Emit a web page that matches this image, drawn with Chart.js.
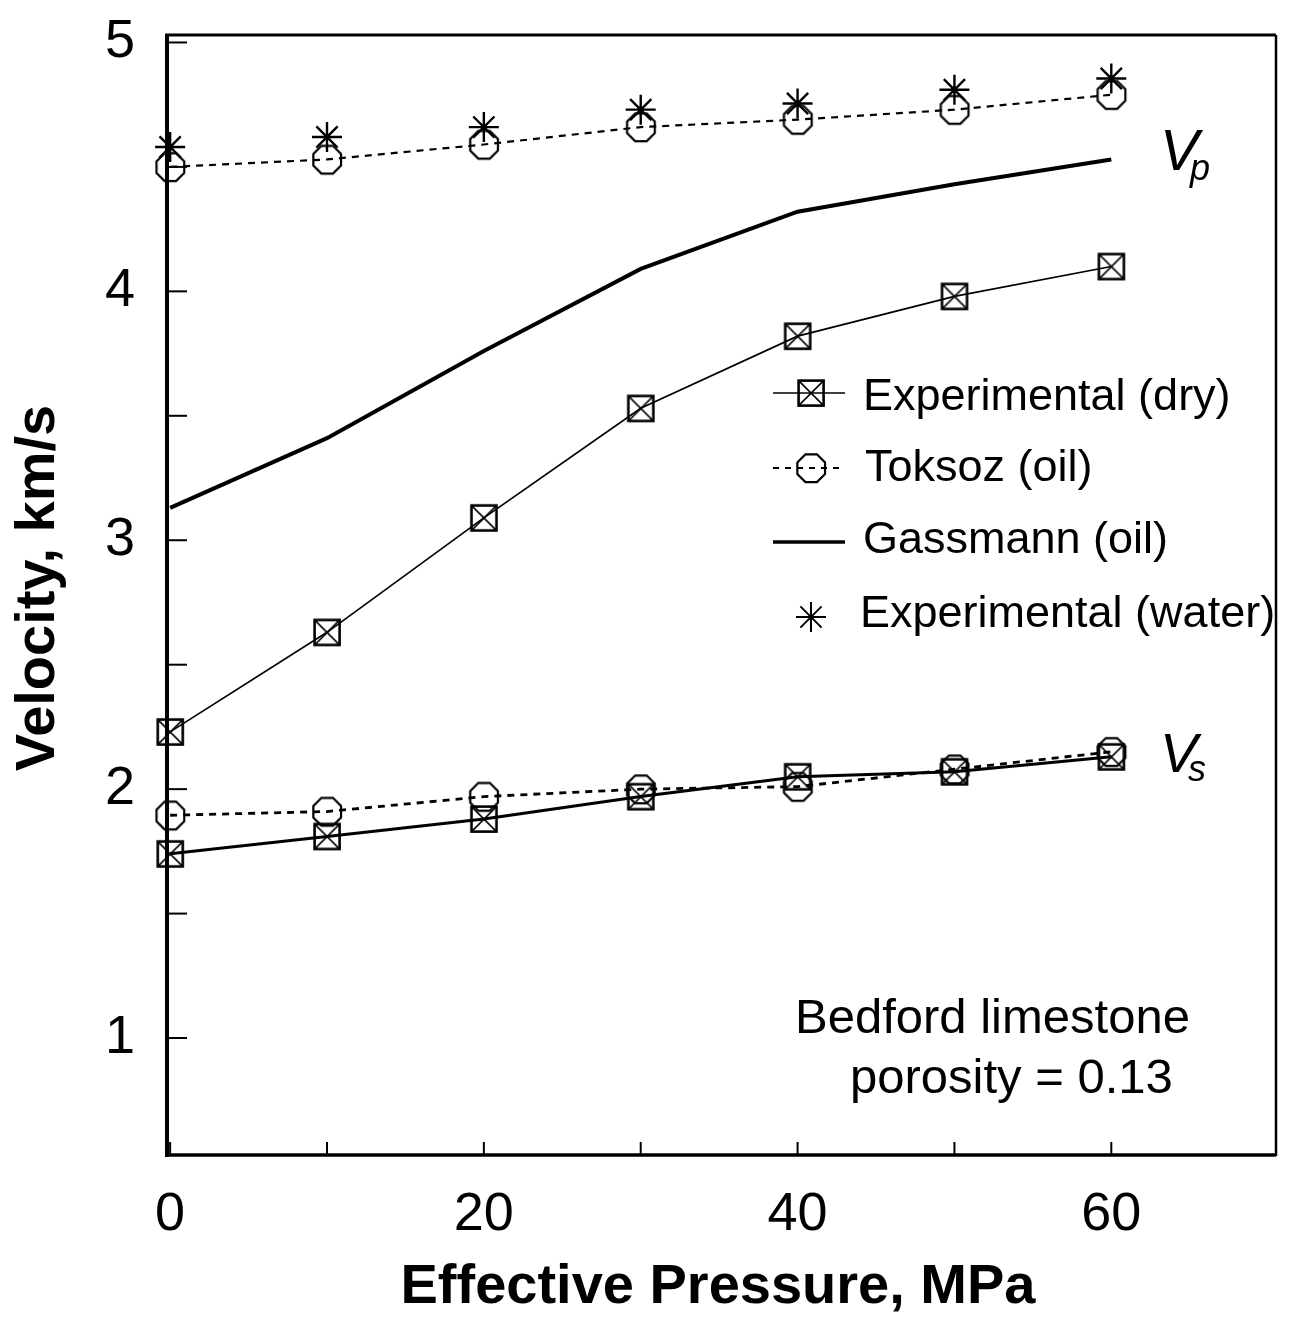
<!DOCTYPE html>
<html><head><meta charset="utf-8">
<script src="https://cdn.jsdelivr.net/npm/chart.js@4/dist/chart.umd.min.js"></script>
<style>html,body{margin:0;padding:0;background:#fff;}#wrap{width:1300px;height:1325px;position:relative;}</style>
</head><body><div id="wrap"><canvas id="c" width="1300" height="1325"></canvas></div>
<script>
// ---- data ----
const pressure   = [0, 10, 20, 30, 40, 50, 60];
const vpDry      = [2.23, 2.63, 3.09, 3.53, 3.82, 3.98, 4.10];
const vpToksoz   = [4.50, 4.53, 4.59, 4.66, 4.69, 4.73, 4.79];
const vpGassmann = [3.13, 3.41, 3.76, 4.09, 4.32, 4.43, 4.53];
const vpWater    = [4.58, 4.62, 4.66, 4.73, 4.755, 4.81, 4.855];
const vsDry      = [1.74, 1.81, 1.88, 1.97, 2.05, 2.07, 2.13];
const vsToksoz   = [1.895, 1.91, 1.97, 2.00, 2.01, 2.08, 2.15];
const xTickValues = [0, 10, 20, 30, 40, 50, 60];
const xTickLabels = ['0', '', '20', '', '40', '', '60'];
const yTickValues = [1, 1.5, 2, 2.5, 3, 3.5, 4, 4.5, 5];
const yTickLabels = ['1', '', '2', '', '3', '', '4', '', '5'];
const legendLabels = ['Experimental (dry)', 'Toksoz (oil)', 'Gassmann (oil)', 'Experimental (water)'];
const noteLines = ['Bedford limestone', 'porosity = 0.13'];

// ---- marker images ----
function squareX(size, lw) {
  const c = document.createElement('canvas');
  const s = size + lw * 2; c.width = s; c.height = s;
  const g = c.getContext('2d');
  g.strokeStyle = '#000'; g.lineWidth = lw;
  const o = lw, e = lw + size;
  g.strokeRect(o, o, size, size);
  g.lineWidth = lw * 0.6;
  g.beginPath(); g.moveTo(o, o); g.lineTo(e, e); g.moveTo(e, o); g.lineTo(o, e); g.stroke();
  return c;
}
function octagon(d, lw) {
  const c = document.createElement('canvas');
  const s = d + lw * 2; c.width = s; c.height = s;
  const g = c.getContext('2d');
  g.strokeStyle = '#000'; g.lineWidth = lw;
  const r = d / 2, cx = s / 2, cy = s / 2;
  g.beginPath();
  for (let i = 0; i < 8; i++) {
    const a = Math.PI / 8 + i * Math.PI / 4;
    const x = cx + r * Math.cos(a), y = cy + r * Math.sin(a);
    if (i === 0) g.moveTo(x, y); else g.lineTo(x, y);
  }
  g.closePath(); g.stroke();
  return c;
}
const sqImg = squareX(25, 2.6);
const octImg = octagon(30, 2.2);

const pts = arr => pressure.map((p, i) => ({ x: p, y: arr[i] }));

const FONT = "'Liberation Sans', Arial, Helvetica, sans-serif";

const decor = {
  id: 'decor',
  afterDatasetsDraw(chart) {
    const { ctx, chartArea: a, scales: { x, y } } = chart;
    ctx.save();
    ctx.strokeStyle = '#000'; ctx.fillStyle = '#000';
    // frame
    ctx.lineWidth = 4; ctx.beginPath(); ctx.moveTo(a.left, a.top - 1); ctx.lineTo(a.left, a.bottom + 2); ctx.stroke();
    ctx.lineWidth = 3.5; ctx.beginPath(); ctx.moveTo(a.left - 2, a.bottom); ctx.lineTo(a.right, a.bottom); ctx.stroke();
    ctx.lineWidth = 3; ctx.beginPath(); ctx.moveTo(a.left - 2, a.top); ctx.lineTo(a.right, a.top); ctx.stroke();
    ctx.lineWidth = 2.5; ctx.beginPath(); ctx.moveTo(a.right, a.top); ctx.lineTo(a.right, a.bottom + 1); ctx.stroke();
    // inward ticks
    ctx.lineWidth = 2;
    yTickValues.forEach(v => { const py = y.getPixelForValue(v); ctx.beginPath(); ctx.moveTo(a.left, py); ctx.lineTo(a.left + 20, py); ctx.stroke(); });
    xTickValues.forEach(v => { const px = x.getPixelForValue(v); ctx.beginPath(); ctx.moveTo(px, a.bottom); ctx.lineTo(px, a.bottom - 13); ctx.stroke(); });
    // axis titles
    ctx.font = "bold 56px " + FONT;
    ctx.textAlign = 'center'; ctx.textBaseline = 'alphabetic';
    ctx.fillText('Effective Pressure, MPa', 718, 1303);
    ctx.save(); ctx.translate(54, 588); ctx.rotate(-Math.PI / 2); ctx.fillText('Velocity, km/s', 0, 0); ctx.restore();
    // Vp / Vs labels
    ctx.textAlign = 'left';
    ctx.font = "italic 58px " + FONT; ctx.fillText('V', 1160, 170);
    ctx.font = "italic 36px " + FONT; ctx.fillText('p', 1190, 180);
    ctx.font = "italic 56px " + FONT; ctx.fillText('V', 1160, 772);
    ctx.font = "italic 36px " + FONT; ctx.fillText('s', 1188, 781);
    // legend
    ctx.font = "45px " + FONT;
    const rows = [
      { ty: 410, tx: 863, ly: 393, kind: 'dry' },
      { ty: 481, tx: 865, ly: 468, kind: 'tok' },
      { ty: 553, tx: 863, ly: 542, kind: 'gas' },
      { ty: 627, tx: 860, ly: 617, kind: 'wat' }
    ];
    rows.forEach((r, i) => {
      ctx.fillText(legendLabels[i], r.tx, r.ty);
      if (r.kind === 'dry') {
        ctx.lineWidth = 1.6; ctx.setLineDash([]);
        ctx.beginPath(); ctx.moveTo(773, r.ly); ctx.lineTo(845, r.ly); ctx.stroke();
        ctx.drawImage(sqImg, 811 - sqImg.width / 2, r.ly - sqImg.height / 2);
      } else if (r.kind === 'tok') {
        ctx.lineWidth = 2; ctx.setLineDash([6, 6]);
        ctx.beginPath(); ctx.moveTo(773, r.ly); ctx.lineTo(845, r.ly); ctx.stroke();
        ctx.setLineDash([]);
        ctx.drawImage(octImg, 811 - octImg.width / 2, r.ly - octImg.height / 2);
      } else if (r.kind === 'gas') {
        ctx.lineWidth = 3.5; ctx.setLineDash([]);
        ctx.beginPath(); ctx.moveTo(773, r.ly); ctx.lineTo(845, r.ly); ctx.stroke();
      } else {
        ctx.lineWidth = 2; const cx = 811, cy = r.ly, R = 15, d = R * Math.SQRT1_2;
        ctx.beginPath();
        ctx.moveTo(cx - R, cy); ctx.lineTo(cx + R, cy);
        ctx.moveTo(cx, cy - R); ctx.lineTo(cx, cy + R);
        ctx.moveTo(cx - d, cy - d); ctx.lineTo(cx + d, cy + d);
        ctx.moveTo(cx - d, cy + d); ctx.lineTo(cx + d, cy - d);
        ctx.stroke();
      }
    });
    // note
    ctx.font = "49px " + FONT;
    ctx.fillText(noteLines[0], 795, 1033);
    ctx.fillText(noteLines[1], 850, 1093);
    ctx.restore();
  }
};

const zeroPad = s => { s.paddingTop = 0; s.paddingBottom = 0; s.paddingLeft = 0; s.paddingRight = 0; };

new Chart(document.getElementById('c'), {
  type: 'scatter',
  data: {
    datasets: [
      { label: 'Vp dry', data: pts(vpDry), showLine: true, borderColor: '#000', borderWidth: 1.7,
        pointStyle: sqImg, pointRadius: 12, clip: false, order: 1 },
      { label: 'Vp Toksoz', data: pts(vpToksoz), showLine: true, borderColor: '#000', borderWidth: 2.2,
        borderDash: [7, 6], pointStyle: octImg, pointRadius: 15, clip: false, order: 3 },
      { label: 'Vp Gassmann', data: pts(vpGassmann), showLine: true, borderColor: '#000', borderWidth: 4,
        pointRadius: 0, clip: false, order: 4 },
      { label: 'Vp water', data: pts(vpWater), showLine: false, borderColor: '#000', backgroundColor: 'rgba(0,0,0,0)',
        pointStyle: 'star', pointRadius: 15, pointBorderWidth: 2.4, clip: false, order: 2 },
      { label: 'Vs dry', data: pts(vsDry), showLine: true, borderColor: '#000', borderWidth: 3,
        pointStyle: sqImg, pointRadius: 12, clip: false, order: 1 },
      { label: 'Vs Toksoz', data: pts(vsToksoz), showLine: true, borderColor: '#000', borderWidth: 2.8,
        borderDash: [7, 6], pointStyle: octImg, pointRadius: 15, clip: false, order: 3 }
    ]
  },
  options: {
    responsive: false,
    animation: false,
    events: [],
    layout: { padding: { left: 0, top: 35, right: 24, bottom: 0 } },
    plugins: { legend: { display: false }, tooltip: { enabled: false } },
    elements: { line: { tension: 0 } },
    scales: {
      x: {
        type: 'linear', min: -0.2, max: 70.5,
        grid: { display: false }, border: { display: false },
        afterBuildTicks: s => { s.ticks = xTickValues.map(v => ({ value: v })); },
        afterFit: s => { s.height = 170; zeroPad(s); },
        ticks: { color: '#000', font: { family: FONT, size: 54 }, padding: 20, maxRotation: 0, autoSkip: false,
          callback: (v) => { const i = xTickValues.indexOf(v); return i >= 0 ? xTickLabels[i] : ''; } }
      },
      y: {
        type: 'linear', min: 0.53, max: 5.03,
        grid: { display: false }, border: { display: false },
        afterBuildTicks: s => { s.ticks = yTickValues.map(v => ({ value: v })); },
        afterFit: s => { s.width = 167; zeroPad(s); },
        ticks: { color: '#000', font: { family: FONT, size: 54 }, padding: 24, autoSkip: false,
          callback: (v) => { const i = yTickValues.indexOf(v); return i >= 0 ? yTickLabels[i] : ''; } }
      }
    }
  },
  plugins: [decor]
});
</script>
</body></html>
